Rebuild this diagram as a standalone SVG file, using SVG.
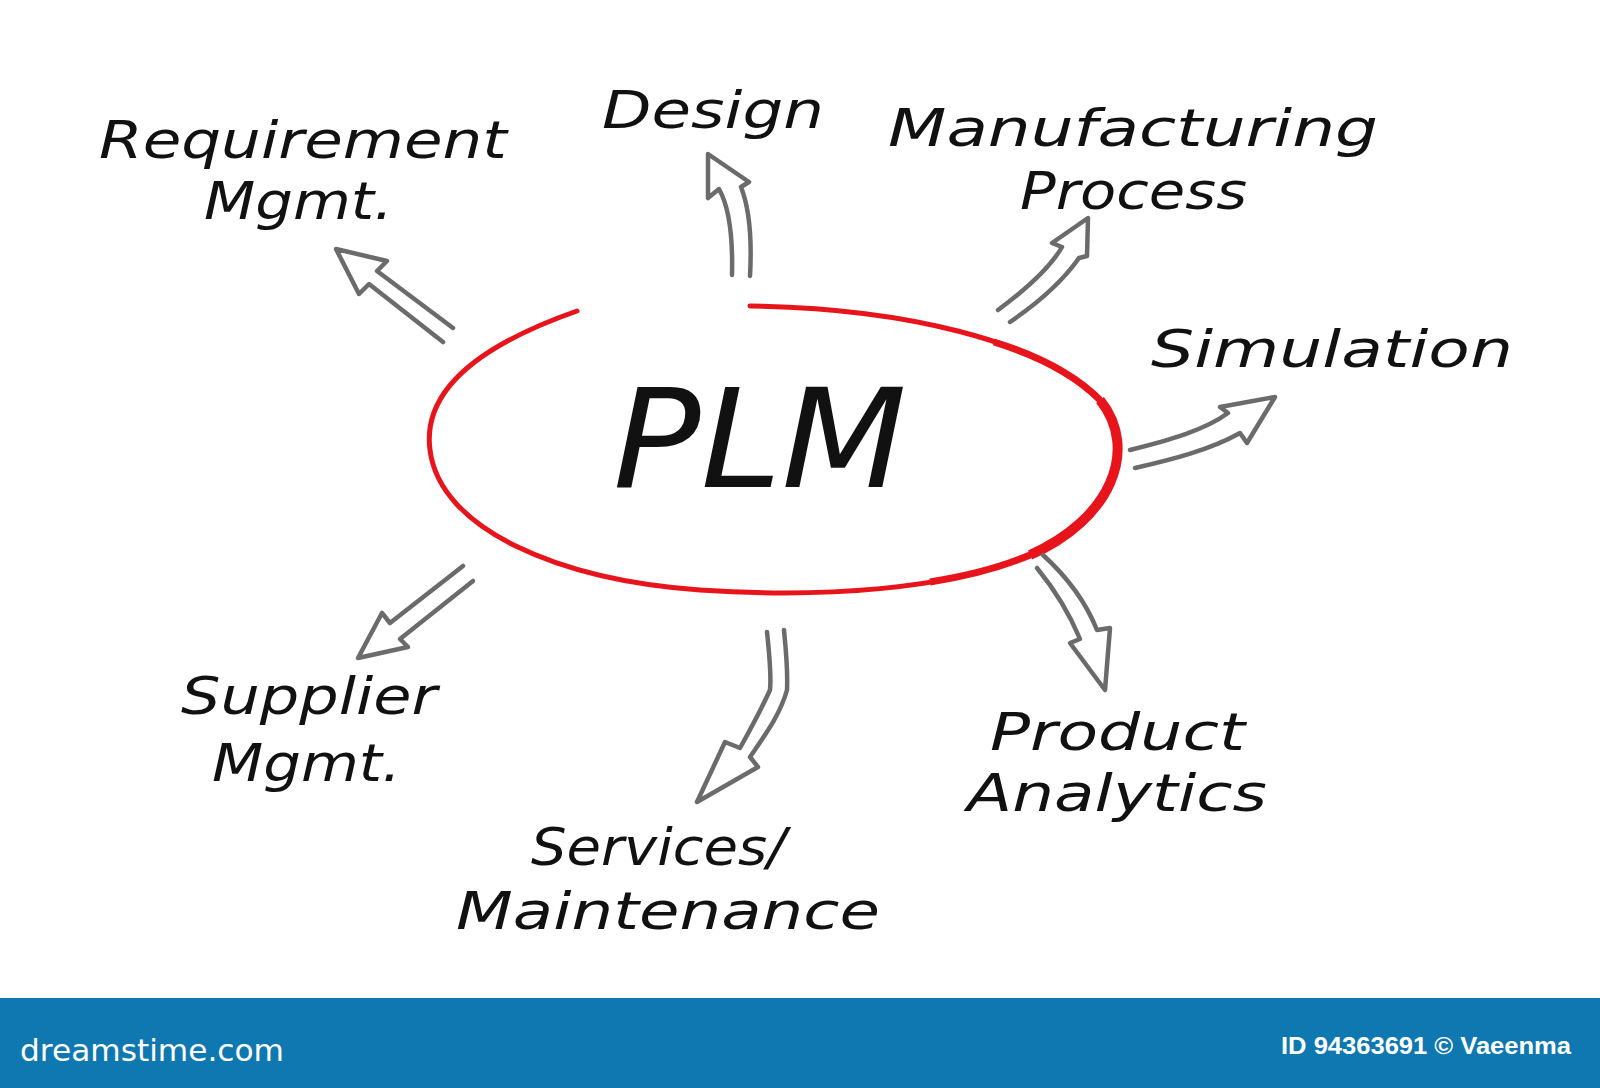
<svg xmlns="http://www.w3.org/2000/svg" width="1600" height="1088" viewBox="0 0 1600 1088">
<style>
.lbl{font-family:"DejaVu Sans","Liberation Sans",sans-serif;font-style:italic;font-size:52px;fill:#111}
.arr{fill:none;stroke:#6b6b6b;stroke-width:4.5;stroke-linejoin:round;stroke-linecap:round}
.ring{fill:none;stroke:#e8141c}
</style>
<rect width="1600" height="1088" fill="#ffffff"/>
<g id="plm">
<path class="ring" d="M750,306 C900,308 1040,340 1100,400 C1140,450 1110,520 1030,555 C950,590 820,598 700,590 C560,580 440,530 430,450 C422,390 480,345 577,311" stroke-width="5" stroke-linecap="round"/>
<path class="ring" d="M994,342 C1039,356 1076,376 1100,400" stroke-width="7"/>
<path class="ring" d="M1030,555 C1002,567 968,576 930,582" stroke-width="7"/>
<path class="ring" d="M1100,400 C1140,450 1110,520 1030,555" stroke-width="10"/>
<text x="760" y="487" text-anchor="middle" font-family="DejaVu Sans, sans-serif" font-style="italic" font-size="138" fill="#111" textLength="294" lengthAdjust="spacingAndGlyphs">PLM</text>
</g>
<g id="connectors">
<path class="arr" d="M453,328 L377,271 L387,261 L336,249 L359,294 L369,284 L443,342"/>
<path class="arr" d="M732,275 C733,235 728,205 719,189 L708,198 L708,154 L749,182 L741,187 C750,210 752,240 750,276"/>
<path class="arr" d="M998,310 C1025,290 1050,268 1062,247 L1052,243 L1088,218 L1087,256 L1079,258 C1060,285 1035,305 1010,322"/>
<path class="arr" d="M1130,450 C1170,440 1205,430 1228,413 L1220,407 L1275,397 L1247,443 L1240,433 C1210,450 1170,460 1135,468"/>
<path class="arr" d="M463,566 L390,623 L382,613 L358,658 L408,647 L400,639 L473,581"/>
<path class="arr" d="M767,632 C770,660 771,680 770,690 C760,712 750,730 740,748 L725,742 L697,802 L758,767 L750,757 C765,735 780,715 787,690 C788,670 786,650 784,630"/>
<path class="arr" d="M1037,568 C1055,590 1070,615 1080,639 L1070,643 L1105,690 L1110,628 L1097,630 C1085,600 1065,575 1043,555"/>
</g>
<g id="requirement"><text class="lbl" x="99" y="158" textLength="408" lengthAdjust="spacingAndGlyphs">Requirement</text><text class="lbl" x="204" y="219" textLength="189" lengthAdjust="spacingAndGlyphs">Mgmt.</text></g>
<g id="design"><text class="lbl" x="602" y="128" textLength="222" lengthAdjust="spacingAndGlyphs">Design</text></g>
<g id="manufacturing"><text class="lbl" x="888" y="146" textLength="490" lengthAdjust="spacingAndGlyphs">Manufacturing</text><text class="lbl" x="1020" y="209" textLength="227" lengthAdjust="spacingAndGlyphs">Process</text></g>
<g id="simulation"><text class="lbl" x="1151" y="367" textLength="362" lengthAdjust="spacingAndGlyphs">Simulation</text></g>
<g id="supplier"><text class="lbl" x="181" y="714" textLength="256" lengthAdjust="spacingAndGlyphs">Supplier</text><text class="lbl" x="212" y="781" textLength="189" lengthAdjust="spacingAndGlyphs">Mgmt.</text></g>
<g id="services"><text class="lbl" x="531" y="865" textLength="255" lengthAdjust="spacingAndGlyphs">Services/</text><text class="lbl" x="456" y="929" textLength="424" lengthAdjust="spacingAndGlyphs">Maintenance</text></g>
<g id="analytics"><text class="lbl" x="990" y="750" textLength="255" lengthAdjust="spacingAndGlyphs">Product</text><text class="lbl" x="967" y="811" textLength="300" lengthAdjust="spacingAndGlyphs">Analytics</text></g>
<g id="footer">
<rect x="0" y="998" width="1600" height="90" fill="#0f78b0"/>
<text x="20" y="1061" font-family="DejaVu Sans, sans-serif" font-size="30" fill="#ffffff" textLength="264" lengthAdjust="spacingAndGlyphs">dreamstime.com</text>
<text x="1571" y="1054" text-anchor="end" font-family="Liberation Sans Narrow, Liberation Sans, sans-serif" font-weight="bold" font-size="24" fill="#ffffff" textLength="290" lengthAdjust="spacingAndGlyphs">ID 94363691 © Vaeenma</text>
</g>
</svg>
